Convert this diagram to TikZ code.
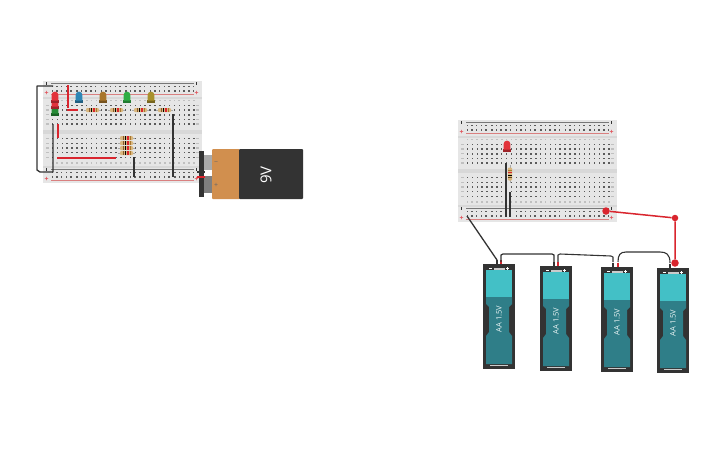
\documentclass[tikz,border=0pt]{standalone}
\usepackage{fontspec}
\setmainfont{Open Sans}
\definecolor{bbface}{HTML}{E6E6E6}
\definecolor{bbband}{HTML}{D8D8D8}
\definecolor{bbhole}{HTML}{5A5A5A}
\definecolor{bbmark}{HTML}{C0C0C0}
\definecolor{railgrey}{HTML}{777777}
\definecolor{railred}{HTML}{D98080}
\definecolor{wirered}{HTML}{D9252E}
\definecolor{wireblk}{HTML}{333333}
\definecolor{casing}{HTML}{333333}
\definecolor{tealhi}{HTML}{43C0C6}
\definecolor{teallo}{HTML}{2F7E88}
\definecolor{nineorange}{HTML}{D18F4E}
\definecolor{termgrey}{HTML}{A9A9A9}
\definecolor{restan}{HTML}{D9B77E}
\definecolor{ledred}{HTML}{E2333B}
\definecolor{ledblue}{HTML}{2E86B5}
\definecolor{ledbrown}{HTML}{A9762C}
\definecolor{ledgreen}{HTML}{2FAE44}
\definecolor{ledolive}{HTML}{A8912C}
\tikzset{
  x=1pt,y=-1pt,
  redwire/.style={draw=wirered,line width=1.5pt},
  blkwire/.style={draw=wireblk,line width=1.3pt,line join=round},
  thinblk/.style={draw=wireblk,line width=1.1pt,line join=round},
  joint/.style={circle,fill=wirered,draw=none,minimum size=7.5pt,inner sep=0pt},
  railmark/.style={font=\fontsize{7}{7}\selectfont\bfseries,text=wirered!80,inner sep=0pt},
  aalabel/.style={font=\fontsize{7.5}{8}\selectfont,text=white!92!teal,rotate=90,inner sep=0pt},
}
% breadboard: local origin at its top left corner
\newcommand{\bbboard}[2]{%
 \begin{scope}[shift={(#1,#2)}]
  \fill[bbface] (0,0) rectangle (159,102);
  \fill[bbband] (0,15.5) rectangle (159,18);
  \fill[bbband] (0,84.5) rectangle (159,87);
  \fill[bbband] (0,49) rectangle (159,53);
  \draw[railgrey,line width=.7pt] (8,2.5) -- (151,2.5);
  \draw[railgrey,line width=.7pt] (8,88.5) -- (151,88.5);
  \draw[railred,line width=.7pt] (8,13.5) -- (151,13.5);
  \draw[railred,line width=.7pt] (8,99.5) -- (151,99.5);
  \foreach \yy in {24.3,29,33.8,38.4,43,57.7,62.4,67,71.7,76.7}{
    \foreach \ii in {0,...,29}{
      \fill[bbhole] ({9.5+4.88*\ii-.75},{\yy-.75}) rectangle ++(1.5,1.5);
    }
    \fill[bbmark] (3,{\yy-.6}) rectangle ++(3,1.2);
    \fill[bbmark] (153,{\yy-.6}) rectangle ++(3,1.2);
  }
  \foreach \yy in {19.5,82}{
    \foreach \ii in {0,...,29}{
      \fill[bbmark] ({9.5+4.88*\ii-.9},{\yy-.9}) rectangle ++(1.8,1.8);
    }
  }
  \foreach \yy in {5.5,10,91.7,96.2}{
    \foreach \gg in {0,...,5}{
      \foreach \ii in {0,...,4}{
        \fill[bbhole] ({9.5+(\gg*5+\ii)*4.6+\gg*1.5-.75},{\yy-.75}) rectangle ++(1.5,1.5);
      }
    }
  }
  \foreach \xx in {3.5,153.5}{
    \draw[wireblk,line width=.6pt] (\xx,1) -- (\xx,4);
    \draw[wireblk,line width=.6pt] (\xx,87) -- (\xx,90);
    \node[railmark] at (\xx,12.5) {+};
    \node[railmark] at (\xx,98) {+};
  }
 \end{scope}}
% LED: centre of the dome, colour
\newcommand{\ledpart}[3]{%
 \fill[#3!70!black] ({#1-3.6},{#2+5}) rectangle ({#1+3.6},{#2+8});
 \fill[#3] ({#1-3.4},{#2+5.5}) -- ({#1-3.4},{#2}) arc[start angle=180,end angle=360,radius=3.4] -- ({#1+3.4},{#2+5.5}) -- cycle;}
% resistor, horizontal, left end x, y; length 13
\newcommand{\reshor}[2]{%
 \draw[termgrey,line width=.6pt] ({#1-2},#2) -- ({#1+15},#2);
 \fill[restan,rounded corners=1pt] (#1,{#2-2}) rectangle ({#1+13},{#2+2});
 \fill[brown!70!black] ({#1+3},{#2-2}) rectangle ({#1+4},{#2+2});
 \fill[black] ({#1+5},{#2-2}) rectangle ({#1+6.3},{#2+2});
 \fill[wirered] ({#1+7.3},{#2-2}) rectangle ({#1+8.5},{#2+2});
 \fill[ledbrown] ({#1+9.6},{#2-2}) rectangle ({#1+10.6},{#2+2});}
% battery holder, top left corner
\newcommand{\aaholder}[3]{%
 \begin{scope}[shift={(#1,#2)}]
  \fill[casing] (0,0) rectangle (32,105);
  \fill[tealhi] (3,5.5) rectangle (29,33);
  \fill[teallo] (3,33) -- (29,33) -- (29,40) -- (26,43) -- (26,68) -- (29,72) -- (29,100) -- (3,100) -- (3,72) -- (6,68) -- (6,43) -- (3,40) -- cycle;
  \fill[termgrey!60!white] (11,4) rectangle (22,6);
  \fill[termgrey!60!white] (7,100.5) rectangle (25,102);
  \draw[white,line width=.5pt] (6,4.5) -- (9,4.5);
  \draw[white,line width=.5pt] (23,4.5) -- (26,4.5) (24.5,3) -- (24.5,6);
  \node[aalabel] (#3) at (16,55) {AA 1.5V};
 \end{scope}}
\begin{document}
\begin{tikzpicture}
\useasboundingbox (0,0) rectangle (725,453);
\fill[white] (0,0) rectangle (725,453);

% ---------- left breadboard ----------
\bbboard{43}{81}
\reshor{86}{110}\reshor{110}{110}\reshor{134}{110}\reshor{158}{110}
\reshor{120}{138}\reshor{120}{143}\reshor{120}{148}\reshor{120}{153}
\coordinate (la) at (68,85);   \coordinate (lb) at (68,108);
\coordinate (lc) at (67,110);  \coordinate (ld) at (78,110);
\coordinate (le) at (58,124);  \coordinate (lf) at (58,138);
\coordinate (lg) at (57,158);  \coordinate (lh) at (116,158);
\coordinate (li) at (134,157); \coordinate (lj) at (134,177);
\coordinate (lk) at (173,114); \coordinate (ll) at (173,177);
\coordinate (lm) at (53,86);   \coordinate (ln) at (53,124);
\draw[redwire] (la) -- (lb);
\draw[redwire] (lc) -- (ld);
\draw[redwire] (le) -- (lf);
\draw[redwire] (lg) -- (lh);
\draw[blkwire] (li) -- (lj);
\draw[blkwire] (lk) -- (ll);
\draw[blkwire] (lm) -- (37,86) -- (37,170) -- (40,172) -- (53,172) -- (ln);
% LEDs
\ledpart{55}{108}{ledgreen!80!black}
\ledpart{55}{101}{ledred}
\ledpart{55}{95}{ledred}
\ledpart{79}{95}{ledblue}
\ledpart{103}{95}{ledbrown}
\ledpart{127}{95}{ledgreen}
\ledpart{151}{95}{ledolive}

% ---------- nine volt battery ----------
\coordinate (bm) at (197,172); \coordinate (bn) at (205,172);
\coordinate (bp) at (197,177); \coordinate (bq) at (205,177);
\fill[termgrey] (204,155) rectangle (212,170);
\fill[termgrey!75!black] (204,176) rectangle (212,193);
\fill[casing] (199,151) rectangle (204,197);
\draw[thinblk] (bm) -- (bn);
\draw[redwire] (bp) -- (bq);
\fill[nineorange,rounded corners=1pt] (212,149) rectangle (240,199);
\fill[casing,rounded corners=1pt] (239,149) rectangle (303,199);
\node[font=\fontsize{7}{7}\selectfont,text=black!60,inner sep=0] at (216,163) {−};
\node[font=\fontsize{7}{7}\selectfont,text=black!60,inner sep=0] at (216,185) {+};
\node[font=\fontsize{15}{15}\selectfont,text=white,rotate=90,inner sep=0] (nine) at (266,175) {9V};

% ---------- right breadboard ----------
\bbboard{458}{120}
\coordinate (ra) at (506,163); \coordinate (rb) at (506,217);
\coordinate (rc) at (510,192); \coordinate (rd) at (510,217);
\draw[thinblk] (ra) -- (rb);
\draw[thinblk] (rc) -- (rd);
\begin{scope}[shift={(510,174)}]
 \draw[termgrey,line width=.6pt] (0,-9) -- (0,9);
 \fill[restan,rounded corners=1pt] (-2.2,-6.5) rectangle (2.2,6.5);
 \fill[ledbrown] (-2.2,-4) rectangle (2.2,-3);
 \fill[wirered] (-2.2,-2) rectangle (2.2,-.7);
 \fill[black] (-2.2,.8) rectangle (2.2,2.2);
 \fill[ledbrown!60!black] (-2.2,3.2) rectangle (2.2,4.2);
\end{scope}
\ledpart{507}{144}{ledred}

% ---------- battery holders ----------
\aaholder{483}{264}{aa1}
\aaholder{540}{266}{aa2}
\aaholder{601}{267}{aa3}
\aaholder{657}{268}{aa4}

% terminals
\coordinate (t1n) at (497,260); \coordinate (t1p) at (501,262);
\coordinate (t2n) at (554,262); \coordinate (t2p) at (558,262);
\coordinate (t3n) at (613,262); \coordinate (t3p) at (618,262);
\coordinate (t4n) at (670,263);
\foreach \tx/\ty in {497/264,554/266,613/267,670/268}{\draw[wireblk,line width=2pt] (\tx,\ty-4) -- (\tx,\ty);}
\foreach \tx/\ty in {501/264,558/266,618/267}{\draw[wirered,line width=2pt] (\tx,\ty-4) -- (\tx,\ty);}

% wires between holders and to the board
\coordinate (rs) at (467,216);
\draw[blkwire] (rs) -- (t1n);
\draw[blkwire] (t1p) -- (501,255) -- (503,254) -- (552,254) -- (554,255) -- (t2n);
\draw[thinblk] (t2p) -- (558,255) -- (560,254) -- (611,256) -- (613,257) -- (t3n);
\draw[thinblk] (t3p) .. controls (618,255) and (620,252) .. (626,252) -- (660,252) .. controls (666,252) and (670,254) .. (t4n);
\node[joint] (j1) at (606,211) {};
\node[joint,minimum size=6.5pt] (j2) at (675,218) {};
\node[joint] (j3) at (675,263) {};
\draw[redwire] (j1) -- (j2) -- (j3);
\end{tikzpicture}
\end{document}
